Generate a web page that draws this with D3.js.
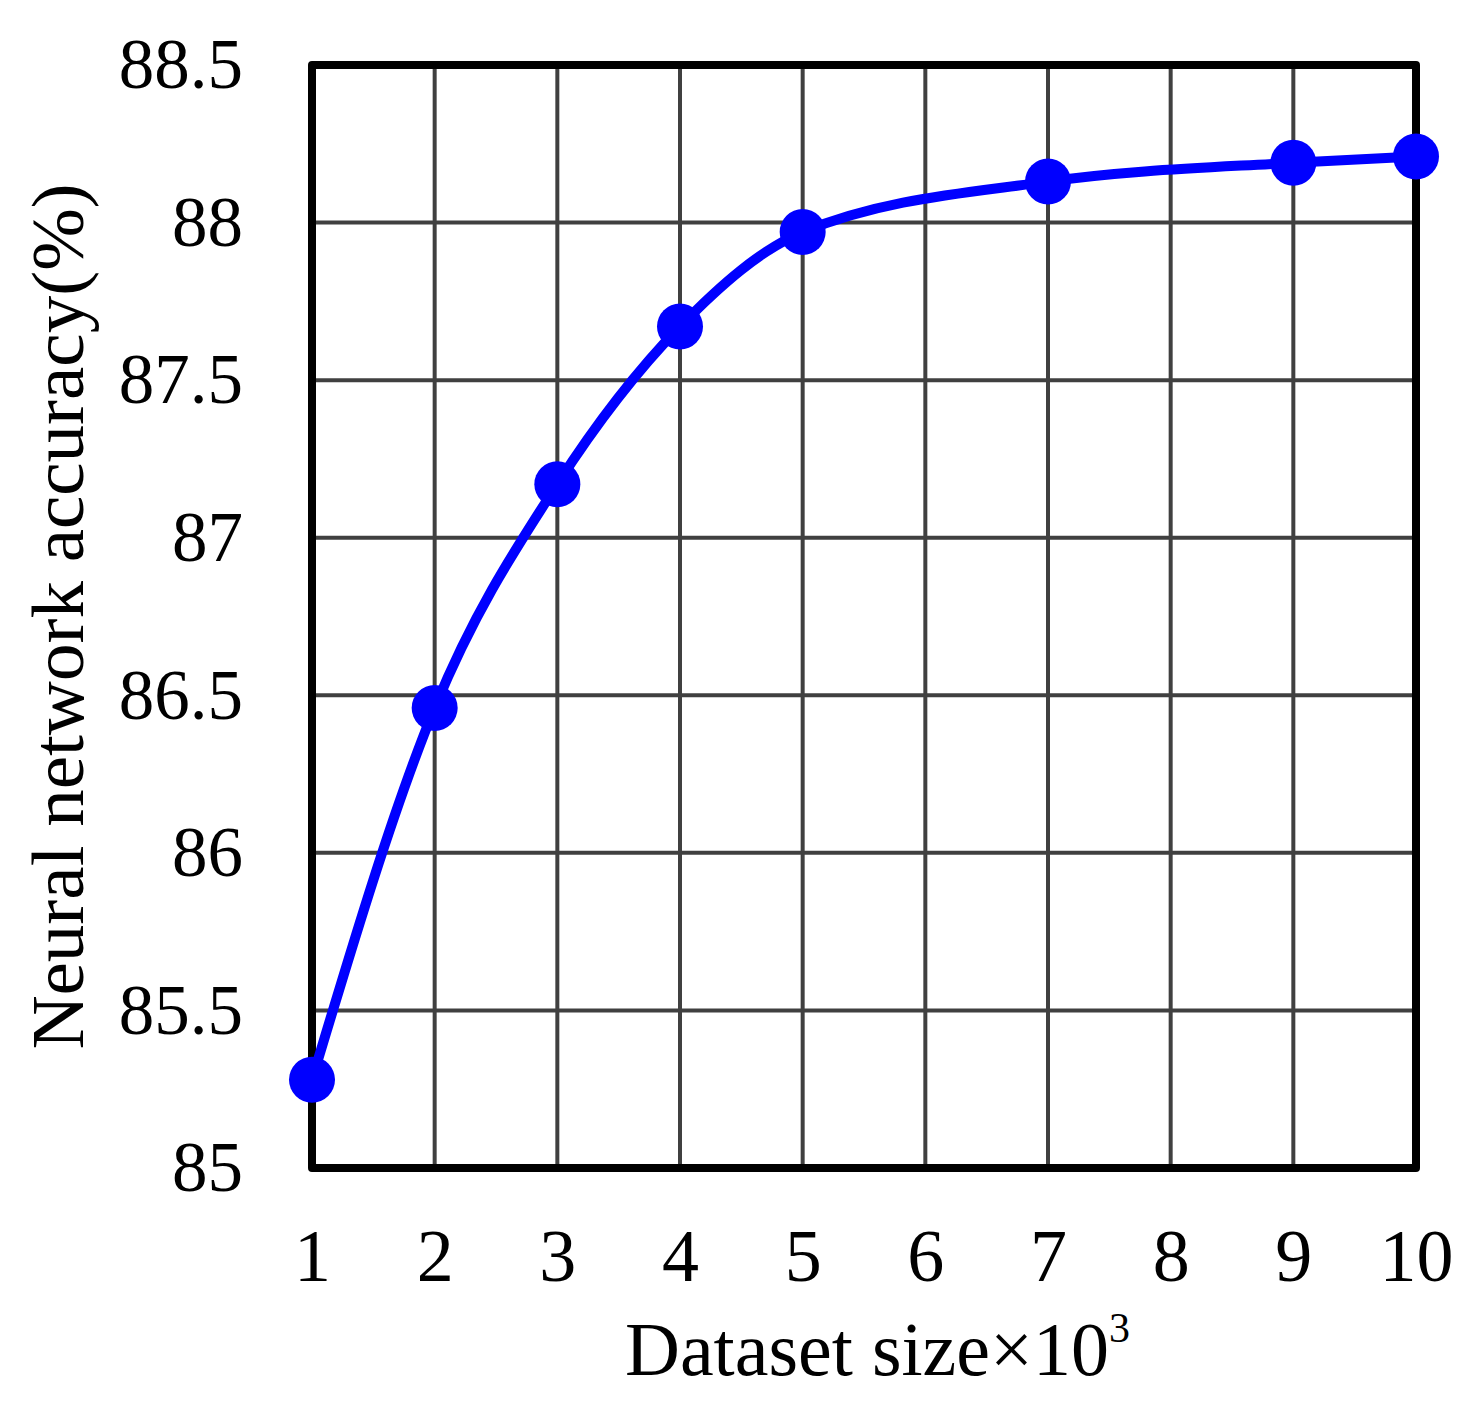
<!DOCTYPE html>
<html>
<head>
<meta charset="utf-8">
<script src="https://cdn.jsdelivr.net/npm/d3@7"></script>
<style>
  body { margin: 0; background: #fff; }
  text { font-family: "Liberation Serif", "Times New Roman", serif; fill: #000; }
</style>
</head>
<body>
<script>
// data
var sizes = [1, 2, 3, 4, 5, 7, 9, 10];
var accuracy = [85.28, 86.46, 87.17, 87.67, 87.97, 88.13, 88.19, 88.21];
var xTicks = [1, 2, 3, 4, 5, 6, 7, 8, 9, 10];
var yTicks = [85, 85.5, 86, 86.5, 87, 87.5, 88, 88.5];

var width = 1476, height = 1410;
var margin = {left: 312, right: 60, top: 65, bottom: 242};

var svg = d3.select("body").append("svg")
    .attr("width", width)
    .attr("height", height);

var x = d3.scaleLinear().domain([1, 10]).range([margin.left, width - margin.right]);
var y = d3.scaleLinear().domain([85, 88.5]).range([height - margin.bottom, margin.top]);

// grid
svg.append("g")
    .selectAll("line.v")
    .data(xTicks)
    .enter().append("line")
    .attr("x1", function (d) { return x(d); })
    .attr("x2", function (d) { return x(d); })
    .attr("y1", y(85))
    .attr("y2", y(88.5))
    .attr("stroke", "#404040")
    .attr("stroke-width", 4);

svg.append("g")
    .selectAll("line.h")
    .data(yTicks)
    .enter().append("line")
    .attr("x1", x(1))
    .attr("x2", x(10))
    .attr("y1", function (d) { return y(d); })
    .attr("y2", function (d) { return y(d); })
    .attr("stroke", "#404040")
    .attr("stroke-width", 4);

// frame
svg.append("rect")
    .attr("x", x(1))
    .attr("y", y(88.5))
    .attr("width", x(10) - x(1))
    .attr("height", y(85) - y(88.5))
    .attr("fill", "none")
    .attr("stroke", "#000")
    .attr("stroke-width", 8)
    .attr("stroke-linejoin", "round");

// axes (labels only, the frame draws the lines)
var xAxis = svg.append("g")
    .attr("transform", "translate(0," + y(85) + ")")
    .call(d3.axisBottom(x).tickValues(xTicks).tickSize(0).tickPadding(60).tickFormat(d3.format("d")));
xAxis.select(".domain").remove();
xAxis.selectAll("text")
    .style("font-size", "74px")
    .style("font-family", "Liberation Serif");

var yAxis = svg.append("g")
    .attr("transform", "translate(" + x(1) + ",0)")
    .call(d3.axisLeft(y).tickValues(yTicks).tickSize(0).tickPadding(69)
        .tickFormat(function (d) { return d3.format("")(d); }));
yAxis.select(".domain").remove();
yAxis.selectAll("text")
    .style("font-size", "71px")
    .style("font-family", "Liberation Serif");

// axis titles
var xt = svg.append("text")
    .attr("x", 625)
    .attr("y", 1375)
    .style("font-size", "76px");
xt.append("tspan").text("Dataset size\u00d710");
xt.append("tspan")
    .attr("dy", -33)
    .style("font-size", "42px")
    .text("3");

svg.append("text")
    .attr("transform", "translate(83," + (y(85) + y(88.5)) / 2 + ") rotate(-90)")
    .attr("text-anchor", "middle")
    .style("font-size", "75px")
    .text("Neural network accuracy(%)");

// curve + markers
var line = d3.line()
    .x(function (d, i) { return x(sizes[i]); })
    .y(function (d) { return y(d); })
    .curve(d3.curveMonotoneX);

svg.append("path")
    .datum(accuracy)
    .attr("d", line)
    .attr("fill", "none")
    .attr("stroke", "#0000ff")
    .attr("stroke-width", 10);

svg.append("g")
    .selectAll("circle")
    .data(accuracy)
    .enter().append("circle")
    .attr("cx", function (d, i) { return x(sizes[i]); })
    .attr("cy", function (d) { return y(d); })
    .attr("r", 23)
    .attr("fill", "#0000ff");
</script>
</body>
</html>
